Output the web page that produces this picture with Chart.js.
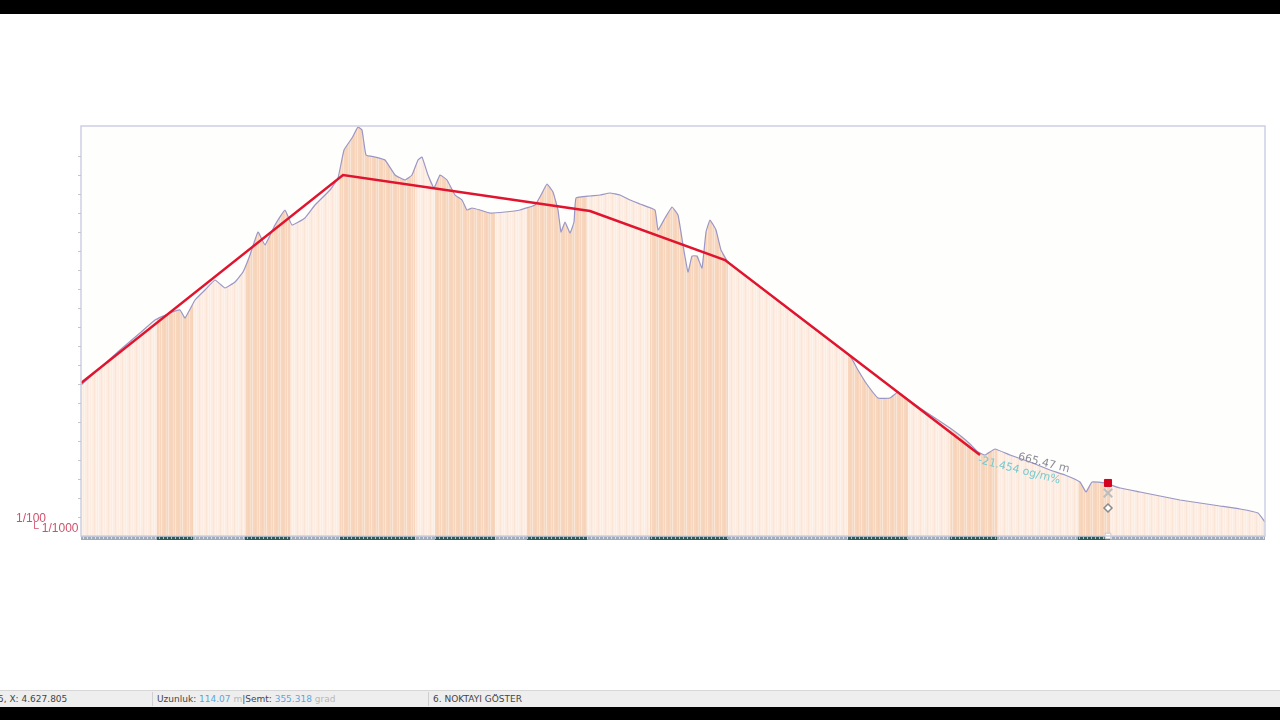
<!DOCTYPE html>
<html>
<head>
<meta charset="utf-8">
<script src="https://cdn.jsdelivr.net/npm/chart.js@4.4.1/dist/chart.umd.min.js"></script>
<style>
  html, body { margin: 0; padding: 0; background: #fff; }
  body { width: 1280px; height: 720px; overflow: hidden; position: relative; font-family: "DejaVu Sans", sans-serif; }
  #wrap { position: absolute; left: 0; top: 0; width: 1280px; height: 720px; }
  .bar { position: absolute; left: 0; width: 1280px; background: #000; }
  #status { position: absolute; left: 0; top: 690px; width: 1280px; height: 16px; background: #eeeeee;
            border-top: 1px solid #d6d6d6; font-size: 9px; color: #444; line-height: 16px; }
  #status span.cell { position: absolute; top: 0; }
  #status .sep { position: absolute; top: 1px; width: 1px; height: 14px; background: #cfcfcf; }
  .blue { color: #5aa6e0; }
  .grey { color: #b8b8b8; }
  .scale { position: absolute; color: #d0506a; font-family: "Liberation Sans", Arial, sans-serif; font-size: 12px; }
</style>
</head>
<body>
<div id="wrap"><canvas id="profileChart"></canvas></div>
<div class="bar" style="top:0;height:14px"></div>
<div class="bar" style="top:706px;height:14px"></div>
<div class="scale" style="left:16px;top:511px">1/100</div>
<div class="scale" style="left:30px;top:521px">&#x2514; 1/1000</div>
<div id="status">
  <span class="cell" style="left:-2px">5, X: 4.627.805</span>
  <div class="sep" style="left:152px"></div>
  <span class="cell" style="left:157px">Uzunluk: <span class="blue">114.07</span> <span class="grey">m</span>|Semt: <span class="blue">355.318</span> <span class="grey">grad</span></span>
  <div class="sep" style="left:428px"></div>
  <span class="cell" style="left:433px">6. NOKTAYI GÖSTER</span>
</div>
<script>
// Terrain profile (distance along axis, ground elevation)
const groundDist = [0, 19, 39, 59, 74, 89, 99, 104, 114, 124, 134, 144, 154, 162, 169, 177, 184, 194, 204, 211,
    224, 234, 249, 257, 263, 271, 277, 281, 285, 294, 304, 314, 324, 331, 337, 341, 347, 353, 359, 366,
    374, 381, 386, 391, 399, 409, 424, 439, 454, 460, 466, 472, 477, 480, 484, 489, 493, 495, 509, 519,
    529, 539, 549, 559, 574, 577, 584, 591, 597, 602, 607, 611, 616, 621, 625, 629, 635, 640, 647, 679,
    719, 769, 777, 785, 797, 809, 817, 825, 839, 854, 869, 881, 889, 897, 904, 914, 929, 949, 969, 984,
    999, 1005, 1011, 1024, 1039, 1059, 1079, 1099, 1119, 1139, 1159, 1177, 1184];
const groundElev = [151, 168, 186, 203, 216, 223, 226, 218, 236, 246, 256, 248, 254, 264, 281, 304, 291, 311, 326, 311,
    318, 331, 346, 358, 386, 398, 409, 406, 381, 379, 376, 361, 356, 361, 376, 379, 361, 348, 361, 356,
    341, 336, 326, 328, 326, 323, 324, 326, 331, 341, 352, 344, 326, 304, 314, 303, 314, 338, 340, 341,
    343, 341, 336, 332, 326, 306, 318, 329, 321, 291, 264, 280, 280, 268, 304, 316, 306, 286, 274, 249,
    218, 180, 166, 153, 138, 138, 144, 138, 128, 118, 108, 99, 92, 84, 81, 87, 81, 74, 66, 61,
    54, 44, 54, 53, 48, 44, 40, 36, 33, 30, 27, 23, 14];

// Design grade line (vertices)
const gradeDist = [0, 262, 509, 644, 899];
const gradeElev = [153, 361, 325, 276, 81];

// Sections shown with the darker shade
const bandStart = [76, 164, 259, 354, 446, 569, 767, 869, 997];
const bandEnd = [112, 209, 334, 414, 506, 647, 827, 916, 1029];

// Selected station markers
const markDist = [1027, 1027, 1027, 1027];
const markElev = [53, 43, 28, 0];

const xMax = 1184;
const yMax = 410;

function toPoints(xs, ys) {
    return xs.map((x, i) => ({ x: x, y: ys[i] }));
}

// stripe texture for the station lines
function stripePattern() {
    const c = document.createElement('canvas');
    c.width = 7; c.height = 4;
    const g = c.getContext('2d');
    g.fillStyle = 'rgba(255,255,255,0.4)';
    g.fillRect(0, 0, 1, 4);
    g.fillStyle = 'rgba(235,180,145,0.12)';
    g.fillRect(3, 0, 1, 4);
    g.fillStyle = 'rgba(255,255,255,0.25)';
    g.fillRect(5, 0, 1, 4);
    return g.createPattern(c, 'repeat');
}

function bandFill(context) {
    const chart = context.chart;
    const area = chart.chartArea;
    if (!area) return '#f8dcc6';
    const xs = chart.scales.x;
    const w = area.right - area.left;
    const grad = chart.ctx.createLinearGradient(area.left, 0, area.right, 0);
    const light = '#fcece1';
    const dark = '#f7d6bd';
    grad.addColorStop(0, light);
    bandStart.forEach((s, i) => {
        const a = (xs.getPixelForValue(s) - area.left) / w;
        const b = (xs.getPixelForValue(bandEnd[i]) - area.left) / w;
        grad.addColorStop(Math.max(0, a - 0.0001), light);
        grad.addColorStop(a, dark);
        grad.addColorStop(b, dark);
        grad.addColorStop(Math.min(1, b + 0.0001), light);
    });
    grad.addColorStop(1, light);
    return grad;
}

const decorPlugin = {
    id: 'decor',
    beforeDraw(chart) {
        const { ctx, chartArea: a } = chart;
        ctx.save();
        ctx.fillStyle = '#fefefc';
        ctx.fillRect(a.left, a.top, a.right - a.left, a.bottom - a.top);
        ctx.restore();
    },
    beforeDatasetsDraw(chart) {
        const { ctx, chartArea: a, scales } = chart;
        ctx.save();
        // station strip under the profile
        const y0 = a.bottom;
        ctx.fillStyle = '#9eabb8';
        ctx.fillRect(a.left, y0, a.right - a.left, 4);
        ctx.fillStyle = '#2f5b58';
        bandStart.forEach((s, i) => {
            const p1 = scales.x.getPixelForValue(s);
            const p2 = scales.x.getPixelForValue(bandEnd[i]);
            ctx.fillRect(p1, y0, p2 - p1, 4);
        });
        ctx.fillStyle = 'rgba(255,255,255,0.65)';
        for (let px = a.left + 2; px < a.right; px += 4) {
            ctx.fillRect(px, y0 + 1, 1, 2);
        }
        ctx.restore();
    },
    afterDatasetsDraw(chart) {
        const { ctx, chartArea: a, scales } = chart;
        ctx.save();
        // frame
        ctx.strokeStyle = '#cdd0e4';
        ctx.lineWidth = 1.5;
        ctx.strokeRect(a.left, a.top, a.right - a.left, a.bottom - a.top);
        // small ticks on left edge
        ctx.strokeStyle = '#c4c4cc';
        ctx.lineWidth = 1;
        scales.y.ticks.forEach(t => {
            const py = Math.round(scales.y.getPixelForValue(t.value)) + 0.5;
            if (py < a.top + 8 || py > a.bottom - 8) return;
            ctx.beginPath();
            ctx.moveTo(a.left - 3, py);
            ctx.lineTo(a.left, py);
            ctx.stroke();
        });
        // annotations along the last segment
        const ax = scales.x.getPixelForValue(962);
        const ay = scales.y.getPixelForValue(70);
        ctx.translate(ax, ay);
        ctx.rotate(0.25);
        ctx.font = '11px "DejaVu Sans", sans-serif';
        ctx.textAlign = 'center';
        ctx.fillStyle = '#8c8c96';
        ctx.fillText('665.47 m', 0, 0);
        ctx.fillStyle = '#79c9cf';
        ctx.fillText('-21.454 og/m%', -22, 13);
        ctx.restore();
    }
};

const ctx = document.getElementById('profileChart').getContext('2d');
new Chart(ctx, {
    type: 'line',
    data: {
        datasets: [
            {
                label: 'markers',
                type: 'scatter',
                data: toPoints(markDist, markElev),
                pointStyle: ['rect', 'crossRot', 'rectRot', 'rect'],
                pointRadius: [5, 6, 4, 4],
                pointBackgroundColor: ['#d4001c', 'rgba(0,0,0,0)', '#ffffff', '#ffffff'],
                pointBorderColor: ['#d4001c', '#bdbdbd', '#8a8a8a', '#c8c8c8'],
                pointBorderWidth: [1, 2, 1.5, 1],
                clip: false,
                order: 0
            },
            {
                label: 'grade',
                data: toPoints(gradeDist, gradeElev),
                borderColor: '#e0142e',
                borderWidth: 2.5,
                pointRadius: 0,
                fill: false,
                tension: 0,
                order: 1
            },
            {
                label: 'ground line',
                data: toPoints(groundDist, groundElev),
                borderColor: '#9a96c6',
                borderWidth: 1.2,
                pointRadius: 0,
                fill: false,
                tension: 0.1,
                order: 2
            },
            {
                label: 'stations',
                data: toPoints(groundDist, groundElev),
                borderWidth: 0,
                pointRadius: 0,
                fill: 'origin',
                backgroundColor: stripePattern(),
                tension: 0.1,
                order: 3
            },
            {
                label: 'ground fill',
                data: toPoints(groundDist, groundElev),
                borderWidth: 0,
                pointRadius: 0,
                fill: 'origin',
                backgroundColor: bandFill,
                tension: 0.1,
                order: 4
            }
        ]
    },
    options: {
        responsive: true,
        maintainAspectRatio: false,
        animation: false,
        layout: { padding: { left: 81, top: 126, right: 15, bottom: 184 } },
        scales: {
            x: { type: 'linear', min: 0, max: xMax, display: false },
            y: { type: 'linear', min: 0, max: yMax, display: false, ticks: { stepSize: 19 } }
        },
        plugins: {
            legend: { display: false },
            tooltip: { enabled: false }
        }
    },
    plugins: [decorPlugin]
});
</script>
</body>
</html>
